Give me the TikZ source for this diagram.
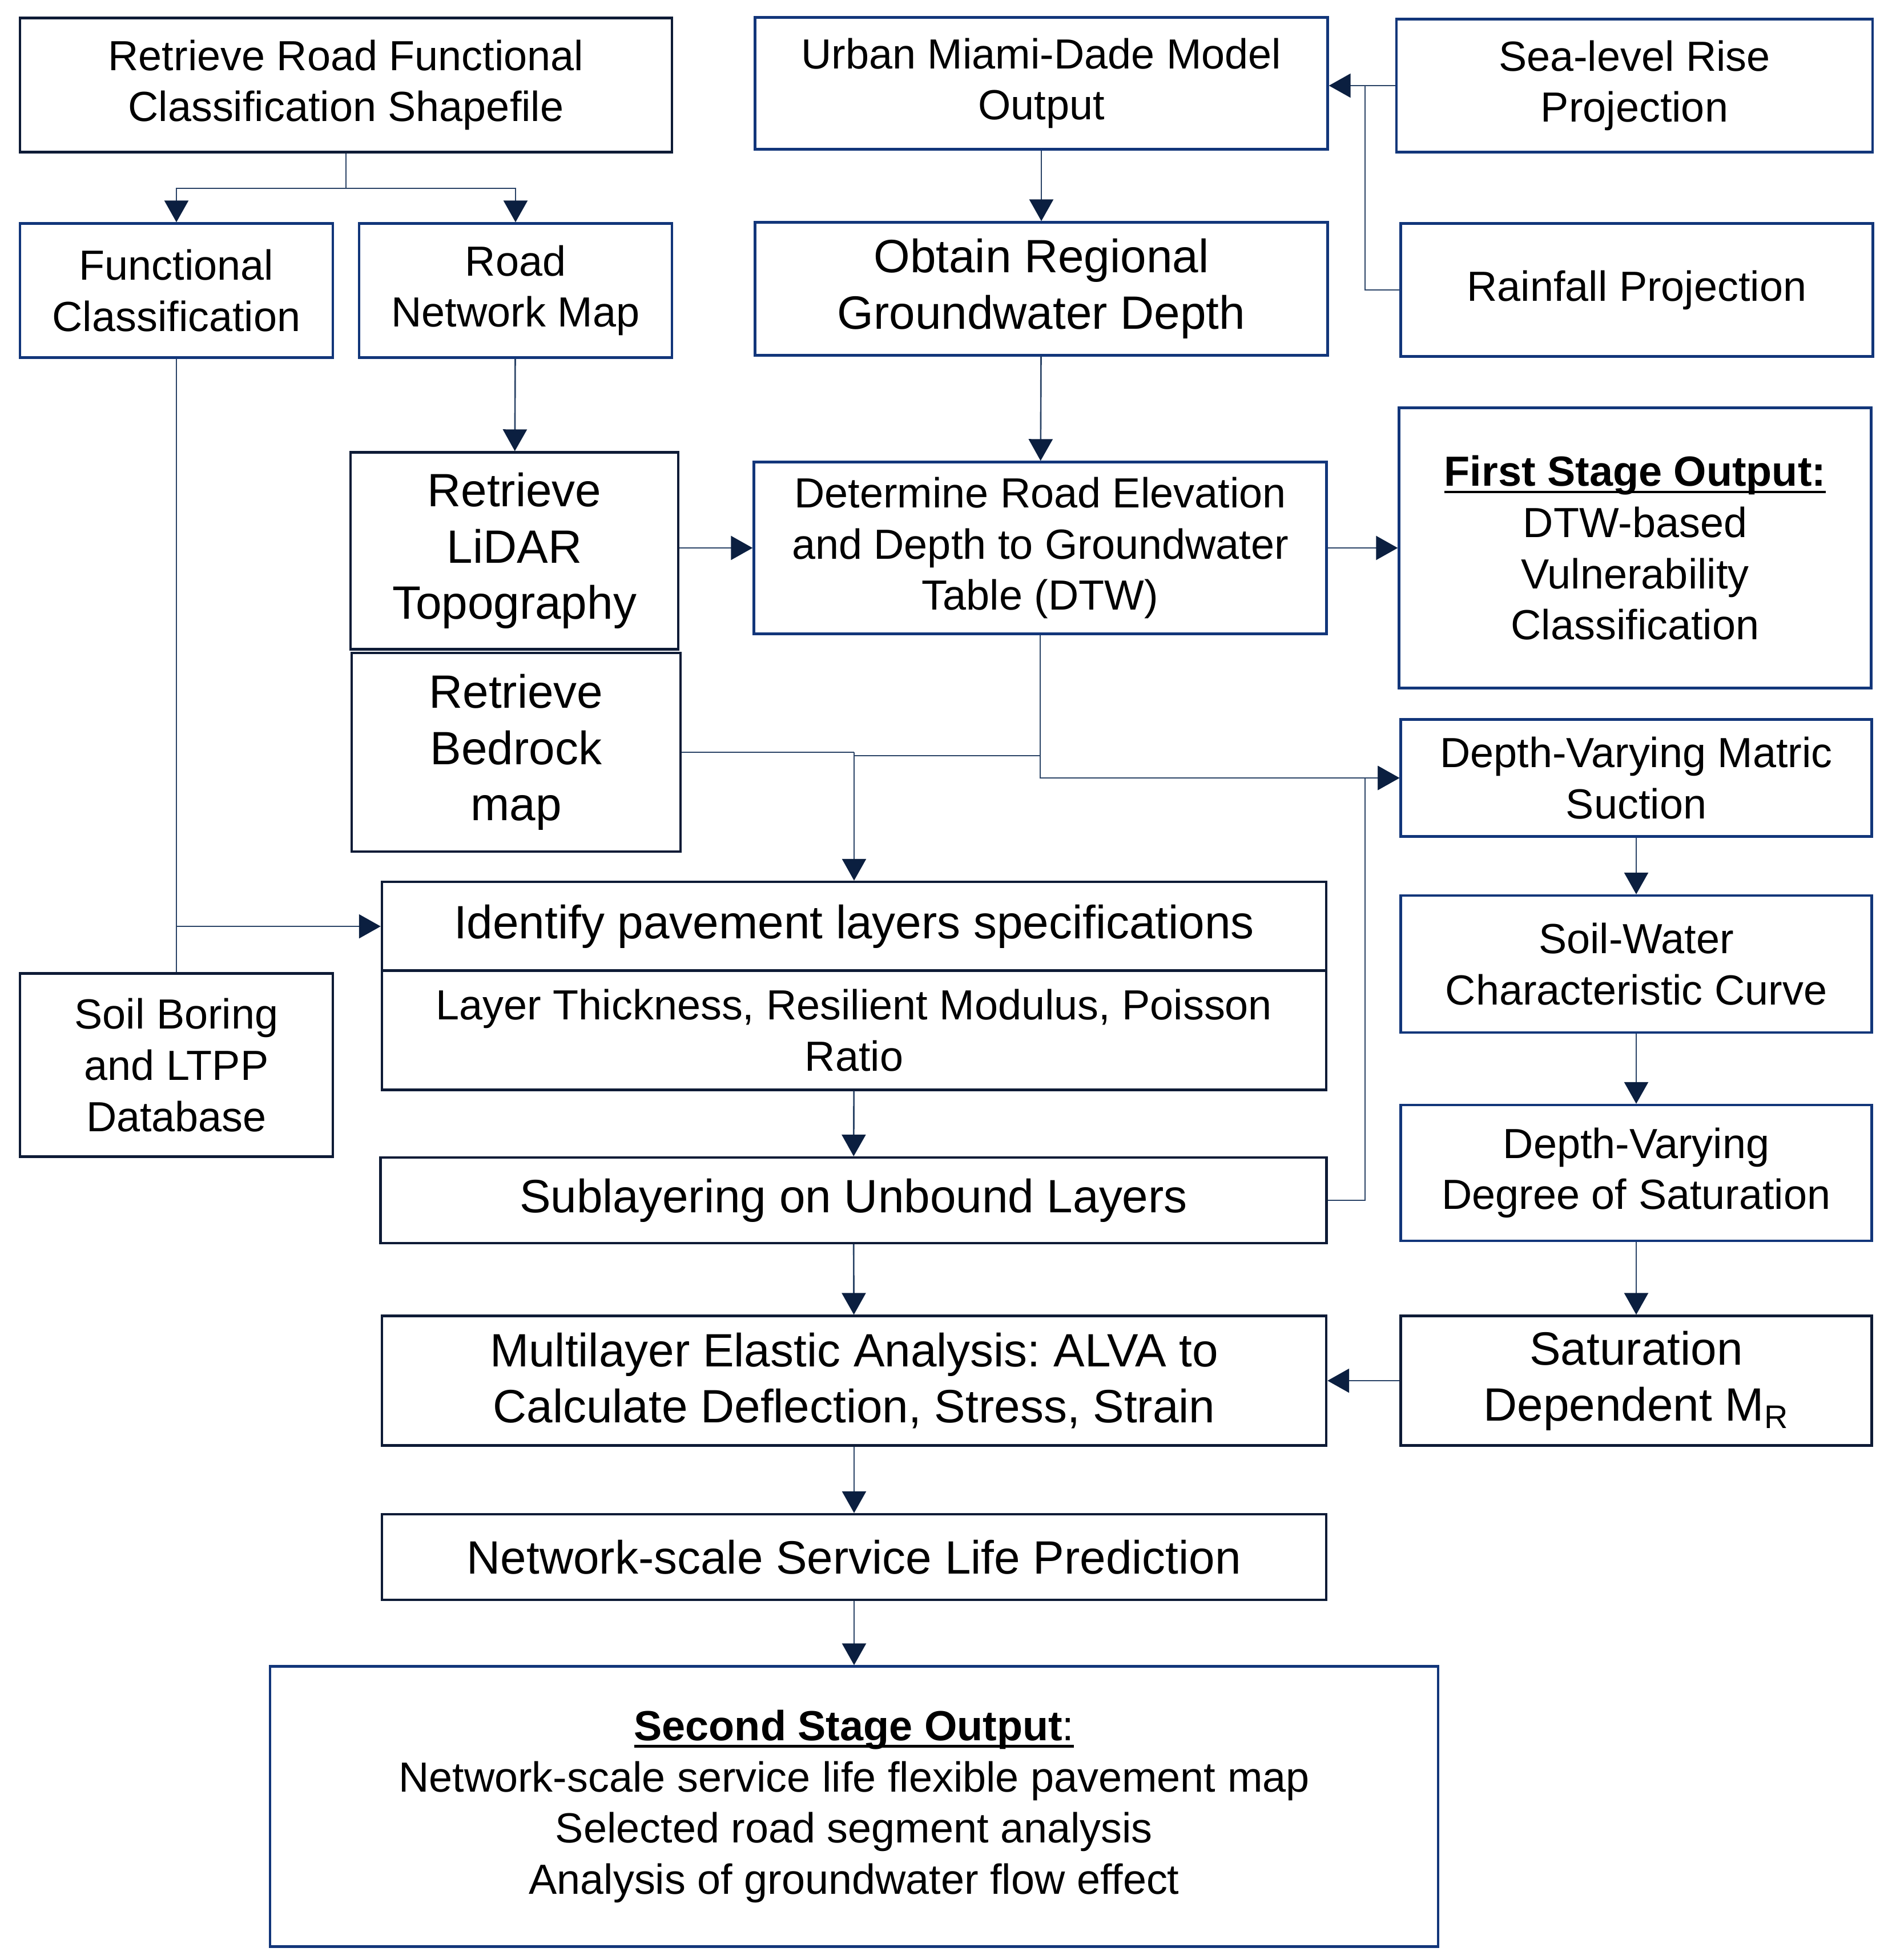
\documentclass[tikz,border=0pt]{standalone}
\usepackage{fontspec}
\setmainfont{Liberation Sans}
\newcommand{\headul}[1]{\setbox0\hbox{#1}\rlap{\rule[-3.5pt]{\wd0}{1.3pt}}\box0}
\usetikzlibrary{arrows.meta}
\definecolor{edgeblue}{HTML}{12367A}
\definecolor{edgedark}{HTML}{0E1B36}
\definecolor{wiregray}{HTML}{2A4366}
\definecolor{tipnavy}{HTML}{0B1F40}
\frenchspacing
\begin{document}
\begin{tikzpicture}[
    procbox/.style={draw=edgeblue,line width=1.25pt,align=center,inner sep=0pt,font=\fontsize{21}{25.5}\selectfont},
    procbig/.style={procbox,font=\fontsize{23.3}{28}\selectfont},
    darkedge/.style={draw=edgedark},
    wire/.style={draw=wiregray,line width=0.75pt},
    wirearr/.style={wire,-{Triangle[length=3.8mm,width=4.2mm,color=tipnavy]}}
  ]
  \useasboundingbox (0,0) rectangle (33,-34.34);
  \node[procbox,darkedge,minimum width=11.42cm,minimum height=2.35cm] (retrieve) at (6.06,-1.49) {Retrieve Road Functional\\Classification Shapefile};
  \node[procbox,minimum width=10.03cm,minimum height=2.31cm] (urban) at (18.24,-1.46) {Urban Miami-Dade Model\\Output};
  \node[procbox,minimum width=8.34cm,minimum height=2.33cm] (sealevel) at (28.63,-1.50) {Sea-level Rise\\Projection};
  \node[procbox,minimum width=5.48cm,minimum height=2.35cm] (funclass) at (3.09,-5.09) {Functional\\Classification};
  \node[procbox,minimum width=5.48cm,minimum height=2.35cm] (roadnet) at (9.03,-5.09) {Road\\Network Map};
  \node[procbig,minimum width=10.03cm,minimum height=2.33cm] (obtain) at (18.24,-5.06) {Obtain Regional\\Groundwater Depth};
  \node[procbox,minimum width=8.27cm,minimum height=2.33cm] (rainfall) at (28.67,-5.08) {Rainfall Projection};
  \node[procbig,darkedge,minimum width=5.74cm,minimum height=3.45cm] (lidar) at (9.01,-9.65) {Retrieve\\LiDAR\\Topography};
  \node[procbox,minimum width=10.03cm,minimum height=3.01cm] (dtw) at (18.22,-9.60) {Determine Road Elevation\\and Depth to Groundwater\\Table (DTW)};
  \node[procbox,minimum width=8.27cm,minimum height=4.91cm] (firststage) at (28.64,-9.60) {\headul{\textbf{First Stage Output:}}\\DTW-based\\Vulnerability\\Classification};
  \node[procbig,darkedge,minimum width=5.76cm,minimum height=3.48cm] (bedrock) at (9.04,-13.18) {Retrieve\\Bedrock\\map};
  \node[procbox,minimum width=8.25cm,minimum height=2.05cm] (suction) at (28.66,-13.63) {Depth-Varying Matric\\Suction};
  \node[procbig,darkedge,minimum width=16.54cm,minimum height=1.56cm] (identify) at (14.96,-16.23) {Identify pavement layers specifications};
  \node[procbox,darkedge,minimum width=16.54cm,minimum height=2.09cm] (layerprops) at (14.96,-18.05) {Layer Thickness, Resilient Modulus, Poisson\\Ratio};
  \node[procbox,minimum width=8.25cm,minimum height=2.40cm] (swcc) at (28.66,-16.89) {Soil-Water\\Characteristic Curve};
  \node[procbox,darkedge,minimum width=5.48cm,minimum height=3.21cm] (soilboring) at (3.09,-18.66) {Soil Boring\\and LTPP\\Database};
  \node[procbig,darkedge,minimum width=16.57cm,minimum height=1.50cm] (sublayer) at (14.95,-21.03) {Sublayering on Unbound Layers};
  \node[procbox,minimum width=8.25cm,minimum height=2.38cm] (saturation) at (28.66,-20.55) {Depth-Varying\\Degree of Saturation};
  \node[procbig,darkedge,minimum width=16.54cm,minimum height=2.27cm] (elastic) at (14.96,-24.19) {Multilayer Elastic Analysis: ALVA to\\Calculate Deflection, Stress, Strain};
  \node[procbig,darkedge,minimum width=8.25cm,minimum height=2.27cm] (modulus) at (28.66,-24.19) {Saturation\\Dependent M\textsubscript{R}};
  \node[procbig,darkedge,minimum width=16.54cm,minimum height=1.50cm] (servicelife) at (14.96,-27.28) {Network-scale Service Life Prediction};
  \node[procbox,minimum width=20.46cm,minimum height=4.91cm] (secondstage) at (14.96,-31.65) {\headul{\textbf{Second Stage Output}:}\\Network-scale service life flexible pavement map\\Selected road segment analysis\\Analysis of groundwater flow effect};
  \coordinate (split) at (6.06,-3.30);
  \coordinate (climate) at (23.91,-1.50);
  \coordinate (bedjoin) at (14.96,-13.18);
  \draw[wire] (retrieve.south) -- (split);
  \draw[wirearr] (split) -| (funclass.north);
  \draw[wirearr] (split) -| (roadnet.north);
  \draw[wirearr] (roadnet) -- (lidar);
  \draw[wirearr] (urban) -- (obtain);
  \draw[wirearr] (obtain) -- (dtw);
  \draw[wirearr] (sealevel.west) -- (sealevel.west -| urban.east);
  \draw[wire] (rainfall.west) -| (climate);
  \draw[wirearr] (lidar.east |- dtw.west) -- (dtw.west);
  \draw[wirearr] (dtw) -- (firststage);
  \draw[wire] (bedrock.east) -- (bedjoin);
  \draw[wirearr] (bedjoin) -- (identify.north);
  \draw[wire] (dtw.south) |- ([yshift=-0.06cm]bedjoin);
  \draw[wirearr] (dtw.south) |- (suction.west);
  \draw[wirearr] (sublayer.east) -- (sublayer.east -| climate) |- (suction.west);
  \draw[wire] (funclass) -- (soilboring);
  \draw[wirearr] (funclass.south |- identify.west) -- (identify.west);
  \draw[wirearr] (layerprops) -- (sublayer);
  \draw[wirearr] (sublayer) -- (elastic);
  \draw[wirearr] (elastic) -- (servicelife);
  \draw[wirearr] (servicelife) -- (secondstage);
  \draw[wirearr] (suction) -- (swcc);
  \draw[wirearr] (swcc) -- (saturation);
  \draw[wirearr] (saturation) -- (modulus);
  \draw[wirearr] (modulus) -- (elastic);
\end{tikzpicture}
\end{document}
